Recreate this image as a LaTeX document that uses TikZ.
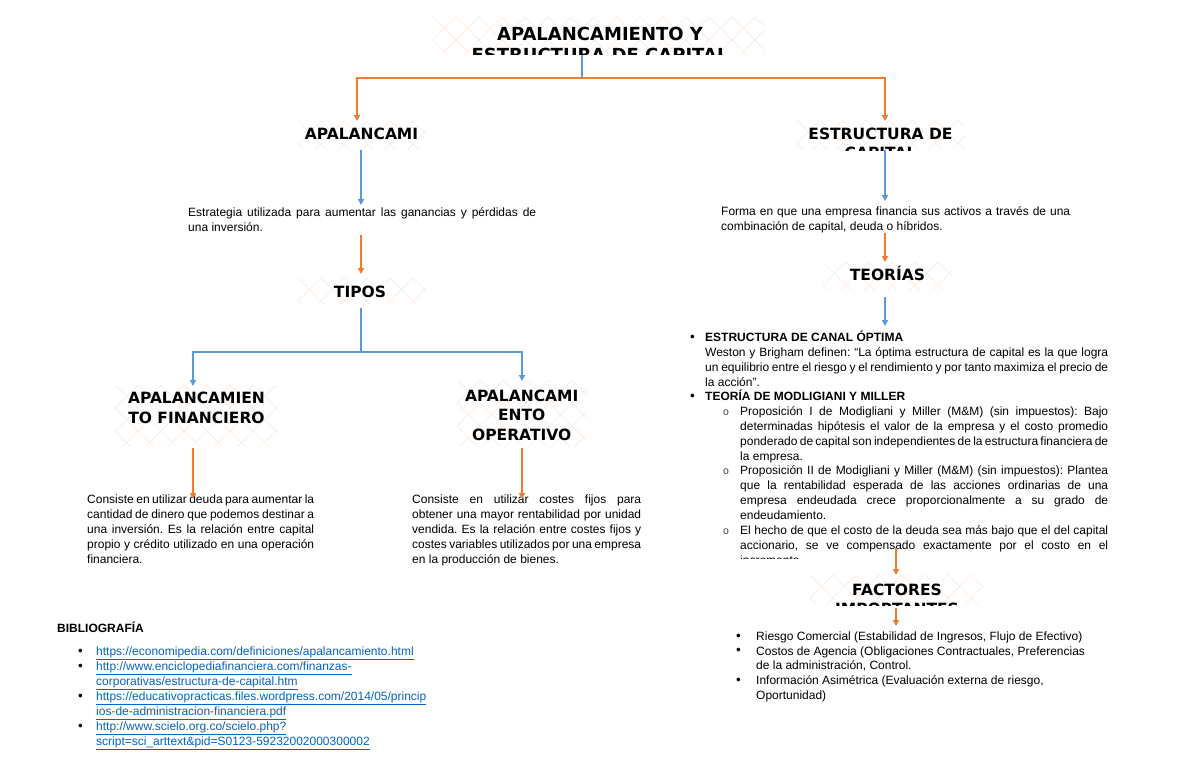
\documentclass[tikz,border=0pt]{standalone}
\usepackage{fontspec}
\setmainfont{Liberation Sans}
\newfontfamily\djb{DejaVu Sans}
\usetikzlibrary{arrows.meta}
\frenchspacing
\definecolor{ora}{HTML}{ED7D31}
\definecolor{blu}{HTML}{5B9BD5}
\definecolor{lnk}{HTML}{0563C1}
\definecolor{hat}{HTML}{FCE8DB}
\newcommand\jl[2]{\makebox[#1pt][s]{#2}}
\newcommand\strA{\rule{0pt}{12pt}}
\newcommand\strB{\rule{0pt}{17pt}}
\newcommand\strC{\rule{0pt}{20pt}}
\newcommand\hatchbox[4]{%
  \begin{scope}
  \clip (#1,#2) rectangle (#3,#4);
  \pgfmathsetmacro\hh{#4-#2}%
  \foreach \i in {0,...,22}{%
    \pgfmathsetmacro\s{#1-69+23*\i}%
    \draw[hatch] (\s,#2) -- ++(\hh,\hh);
    \draw[hatch] (\s,#2) -- ++(-\hh,\hh);
  }}
\tikzset{
  hatch/.style={draw=hat, line width=0.6pt},
  oa/.style={draw=ora, line width=1.4pt, -{Triangle[length=6pt,width=6pt]}},
  ol/.style={draw=ora, line width=1.4pt},
  ba/.style={draw=blu, line width=1.4pt, -{Triangle[length=6pt,width=6pt]}},
  bl/.style={draw=blu, line width=1.4pt},
  body/.style={font=\fontsize{12}{15}\selectfont, inner sep=0, anchor=north west, align=left},
  bib/.style={font=\fontsize{12}{14.8}\selectfont, inner sep=0, anchor=north west, align=left, text=lnk},
  bul/.style={font=\fontsize{13.5}{15}\selectfont, inner sep=0, anchor=base west},
  subbul/.style={font=\fontsize{10.5}{15}\selectfont, inner sep=0, anchor=base west, text=black!75},
  ttl/.style={font=\djb\bfseries\fontsize{15.5}{19.5}\selectfont, inner sep=0, anchor=north, align=center},
  ttl0/.style={font=\djb\bfseries\fontsize{18}{21}\selectfont, inner sep=0, anchor=north, align=center},
}
\begin{document}
\begin{tikzpicture}[x=1pt,y=-1pt]
\useasboundingbox (0,0) rectangle (1200,776);
\fill[white] (0,0) rectangle (1200,776);

% ---------- title
\hatchbox{433}{17}{765}{55}
  \node[ttl0] (title) at (600,20) {\strC APALANCAMIENTO Y\\ESTRUCTURA DE CAPITAL};
\end{scope}

% ---------- left branch
\hatchbox{298}{121}{427}{150}
  \node[ttl] (apal) at (361.5,122) {\strB APALANCAMI};
\end{scope}

\node[body] (defap) at (188,204) {\strA\jl{348}{Estrategia utilizada para aumentar las ganancias y pérdidas de}\\una inversión.};

\hatchbox{298}{278}{427}{305}
  \node[ttl] (tipos) at (360,280) {\strB TIPOS};
\end{scope}

\hatchbox{115}{385}{278}{447}
  \node[ttl, font=\djb\bfseries\fontsize{15.5}{20}\selectfont] (fin) at (196.5,386) {\strB APALANCAMIEN\\TO FINANCIERO};
\end{scope}

\hatchbox{457}{380}{587}{447}
  \node[ttl] (oper) at (521.7,384) {\strB APALANCAMI\\ENTO\\OPERATIVO};
\end{scope}

\node[body] (deffin) at (87,491) {\strA\jl{227}{Consiste en utilizar deuda para aumentar la}\\\jl{227}{cantidad de dinero que podemos destinar a}\\\jl{227}{una inversión. Es la relación entre capital}\\\jl{227}{propio y crédito utilizado en una operación}\\financiera.};

\node[body] (defop) at (412,491) {\strA\jl{229}{Consiste en utilizar costes fijos para}\\\jl{229}{obtener una mayor rentabilidad por unidad}\\\jl{229}{vendida. Es la relación entre costes fijos y}\\\jl{229}{costes variables utilizados por una empresa}\\en la producción de bienes.};

% ---------- right branch
\hatchbox{797}{120}{965}{150}
  \node[ttl, font=\djb\bfseries\fontsize{15.5}{19}\selectfont] (estr) at (880.5,122) {\strB ESTRUCTURA DE\\CAPITAL};
\end{scope}

\node[body] (defes) at (721,203) {\strA\jl{349}{Forma en que una empresa financia sus activos a través de una}\\combinación de capital, deuda o híbridos.};

\hatchbox{823}{262}{952}{290}
  \node[ttl] (teor) at (887.5,263) {\strB TEORÍAS};
\end{scope}

\begin{scope}
\clip (680,327) rectangle (1120,558);
\node[bul] (tb1) at (690,341) {•};
\node[body] (th1) at (705,329) {\strA\bfseries ESTRUCTURA DE CANAL ÓPTIMA};
\node[body] (th1t) at (705,344) {\strA\jl{403}{Weston y Brigham definen: “La óptima estructura de capital es la que logra}\\\jl{403}{un equilibrio entre el riesgo y el rendimiento y por tanto maximiza el precio de}\\la acción”.};
\node[bul] (tb2) at (690,400) {•};
\node[body] (th2) at (705,388) {\strA\bfseries TEORÍA DE MODLIGIANI Y MILLER};
\node[subbul] (sb1) at (723,415) {o};
\node[body] (p1) at (740,403) {\strA\jl{368}{Proposición I de Modigliani y Miller (M\&M) (sin impuestos): Bajo}\\\jl{368}{determinadas hipótesis el valor de la empresa y el costo promedio}\\\jl{368}{ponderado de capital son independientes de la estructura financiera de}\\la empresa.};
\node[subbul] (sb2) at (723,474) {o};
\node[body] (p2) at (740,462) {\strA\jl{368}{Proposición II de Modigliani y Miller (M\&M) (sin impuestos): Plantea}\\\jl{368}{que la rentabilidad esperada de las acciones ordinarias de una}\\\jl{368}{empresa endeudada crece proporcionalmente a su grado de}\\endeudamiento.};
\node[subbul] (sb3) at (723,534) {o};
\node[body] (p3) at (740,522) {\strA\jl{368}{El hecho de que el costo de la deuda sea más bajo que el del capital}\\\jl{368}{accionario, se ve compensado exactamente por el costo en el}\\incremento};
\end{scope}

\hatchbox{810}{575}{983}{605}
  \node[ttl, font=\djb\bfseries\fontsize{15.5}{19}\selectfont] (fact) at (897,578) {\strB FACTORES\\IMPORTANTES};
\end{scope}

\node[bul] (fb1) at (736,640) {•};
\node[body] (f1) at (756,628) {\strA Riesgo Comercial (Estabilidad de Ingresos, Flujo de Efectivo)};
\node[bul] (fb2) at (736,654.8) {•};
\node[body, font=\fontsize{12}{14.8}\selectfont] (f2) at (756,642.8) {\strA Costos de Agencia (Obligaciones Contractuales, Preferencias\\de la administración, Control.};
\node[bul] (fb3) at (736,684.4) {•};
\node[body, font=\fontsize{12}{14.8}\selectfont] (f3) at (756,672.4) {\strA Información Asimétrica (Evaluación externa de riesgo,\\Oportunidad)};

% ---------- bibliography
\node[body, font=\fontsize{12}{15}\selectfont] (bibt) at (57,620) {\strA\bfseries BIBLIOGRAFÍA};
\node[bul] (bb1) at (78,655) {•};
\node[bib] (l1) at (96,643) {\strA\underline{https://economipedia.com/definiciones/apalancamiento.html}};
\node[bul] (bb2) at (78,670) {•};
\node[bib] (l2) at (96,658) {\strA\underline{http://www.enciclopediafinanciera.com/finanzas-}\\\underline{corporativas/estructura-de-capital.htm}};
\node[bul] (bb3) at (78,700) {•};
\node[bib] (l3) at (96,688) {\strA\underline{https://educativopracticas.files.wordpress.com/2014/05/princip}\\\underline{ios-de-administracion-financiera.pdf}};
\node[bul] (bb4) at (78,730) {•};
\node[bib] (l4) at (96,718) {\strA\underline{http://www.scielo.org.co/scielo.php?}\\\underline{script=sci\_arttext\&pid=S0123-59232002000300002}};

% ---------- connector coordinates
\coordinate (titleS) at (582,55);
\coordinate (j0) at (582,78);
\coordinate (apalN) at (357,121);
\coordinate (estrN) at (885,121);
\coordinate (apalS) at (361,150);
\coordinate (defapN) at (361,205);
\coordinate (defapS) at (361,235);
\coordinate (tiposN) at (361,274);
\coordinate (tiposS) at (361,308);
\coordinate (j1) at (361,352);
\coordinate (finN) at (193,386);
\coordinate (operN) at (522,381);
\coordinate (finS) at (193,448);
\coordinate (deffinN) at (193,499);
\coordinate (operS) at (522,448);
\coordinate (defopN) at (522,499);
\coordinate (estrS) at (885,150);
\coordinate (defesN) at (885,201);
\coordinate (defesS) at (885,233);
\coordinate (teorN) at (885,262);
\coordinate (teorS) at (885,297);
\coordinate (thN) at (885,326);
\coordinate (thS) at (896,548);
\coordinate (factN) at (896,575);
\coordinate (factS) at (896,608);
\coordinate (flistN) at (896,626);

\draw[bl] (titleS) -- (j0);
\draw[oa] (j0) -| (apalN);
\draw[oa] (j0) -| (estrN);
\draw[ba] (apalS) -- (defapN);
\draw[oa] (defapS) -- (tiposN);
\draw[bl] (tiposS) -- (j1);
\draw[ba] (j1) -| (finN);
\draw[ba] (j1) -| (operN);
\draw[oa] (finS) -- (deffinN);
\draw[oa] (operS) -- (defopN);
\draw[ba] (estrS) -- (defesN);
\draw[oa] (defesS) -- (teorN);
\draw[ba] (teorS) -- (thN);
\draw[oa] (thS) -- (factN);
\draw[oa] (factS) -- (flistN);
\end{tikzpicture}
\end{document}
